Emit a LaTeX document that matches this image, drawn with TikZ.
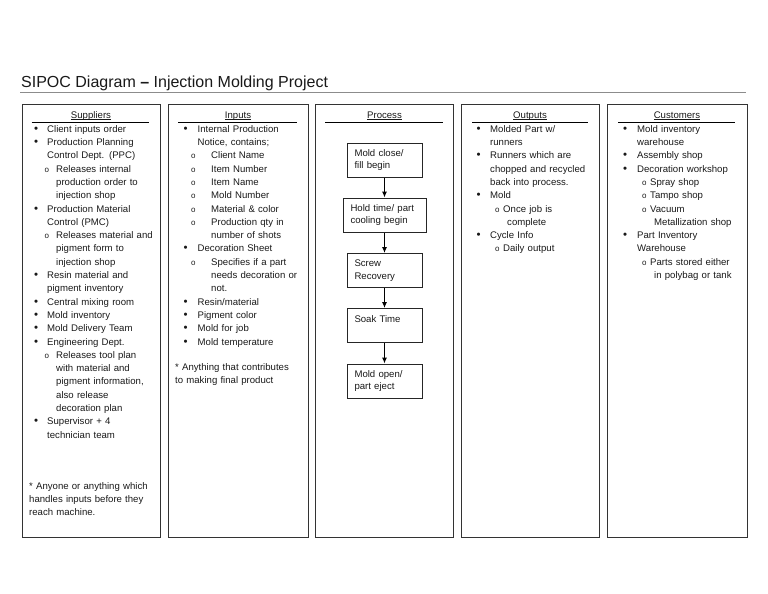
\documentclass[tikz,border=0pt]{standalone}
\usepackage{fontspec}
\setmainfont{Liberation Sans}
\usetikzlibrary{arrows.meta}
\setlength{\parindent}{0pt}

% column line layout: bullet, text, sub bullet, sub text, sub continuation
\newcommand\colset[5]{\def\cbul{#1pt}\def\ctxt{#2pt}\def\csub{#3pt}\def\cstx{#4pt}\def\cscn{#5pt}}
\newcommand\subo{{\fontsize{8}{8}\selectfont o}}
\newcommand\bigbul{{\fontsize{11.5}{11.5}\selectfont\textbullet}}
\newcommand\bitem[1]{\hspace*{\cbul}\makebox[\dimexpr\ctxt-\cbul\relax][l]{\bigbul}#1\strut}
\newcommand\bcont[1]{\hspace*{\ctxt}#1\strut}
\newcommand\sitem[1]{\hspace*{\csub}\makebox[\dimexpr\cstx-\csub\relax][l]{\subo}#1\strut}
\newcommand\scont[1]{\hspace*{\cscn}#1\strut}
\newcommand\hdline[1]{\setbox0\hbox{#1}\rlap{\rule[-1.3pt]{\wd0}{0.5pt}}\box0}

\begin{document}
\begin{tikzpicture}[x=1pt, y=-1pt, >={Latex[length=6pt,width=5pt]},
  colbox/.style={draw=black!80, line width=1pt, minimum height=433pt, inner sep=0pt},
  coltext/.style={anchor=north west, inner sep=0pt, text width=138pt, align=left,
    text=black!90, font=\fontsize{9.6}{13.3}\selectfont},
  head/.style={anchor=base, inner sep=0pt, text=black!90, font=\fontsize{9.6}{13.3}\selectfont},
  procbox/.style={draw=black!85, line width=1pt, minimum height=34pt, text width=60pt,
    inner xsep=7.5pt, align=left, text=black!90, font=\fontsize{9.6}{12.5}\selectfont}]
  \useasboundingbox (0,0) rectangle (768,594);

  \node[anchor=base west, inner sep=0pt, text=black!90, font=\fontsize{16}{19}\selectfont] (title) at (21,87)
    {SIPOC Diagram {\bfseries --} Injection Molding Project};
  \draw[black!45, line width=0.8pt] (20,92.5) -- (746,92.5);

  \node[colbox, minimum width=138pt] (sup) at (91,320.5) {};
  \node[colbox, minimum width=140pt] (inp) at (238,320.5) {};
  \node[colbox, minimum width=138pt] (proc) at (384.5,320.5) {};
  \node[colbox, minimum width=138pt] (outp) at (530,320.5) {};
  \node[colbox, minimum width=140pt] (cust) at (677,320.5) {};

  \node[head] (suphd) at (91,118.5) {\hdline{Suppliers}};
  \draw[line width=0.8pt] (31.5,122) -- (148.5,122);
  \node[head] (inphd) at (238,118.5) {\hdline{Inputs}};
  \draw[line width=0.8pt] (178,122) -- (297,122);
  \node[head] (prochd) at (384.5,118.5) {\hdline{Process}};
  \draw[line width=0.8pt] (325,122) -- (443,122);
  \node[head] (outphd) at (530,118.5) {\hdline{Outputs}};
  \draw[line width=0.8pt] (472,122) -- (588,122);
  \node[head] (custhd) at (677,118.5) {\hdline{Customers}};
  \draw[line width=0.8pt] (618,122) -- (735,122);

  % suppliers
  \colset{12}{25}{22.5}{34}{34}
  \node[coltext] (suptxt) at (22,122.7) {%
    \bitem{Client inputs order}\\
    \bitem{Production Planning}\\
    \bcont{Control Dept. (PPC)}\\
    \sitem{Releases internal}\\
    \scont{production order to}\\
    \scont{injection shop}\\
    \bitem{Production Material}\\
    \bcont{Control (PMC)}\\
    \sitem{Releases material and}\\
    \scont{pigment form to}\\
    \scont{injection shop}\\
    \bitem{Resin material and}\\
    \bcont{pigment inventory}\\
    \bitem{Central mixing room}\\
    \bitem{Mold inventory}\\
    \bitem{Mold Delivery Team}\\
    \bitem{Engineering Dept.}\\
    \sitem{Releases tool plan}\\
    \scont{with material and}\\
    \scont{pigment information,}\\
    \scont{also release}\\
    \scont{decoration plan}\\
    \bitem{Supervisor + 4}\\
    \bcont{technician team}};
  \node[coltext] (supnote) at (29,479.7)
    {\strut* Anyone or anything which\\handles inputs before they\\reach machine.};

  % inputs
  \colset{15.5}{29.5}{23}{43}{43}
  \node[coltext] (inptxt) at (168,122.7) {%
    \bitem{Internal Production}\\
    \bcont{Notice, contains;}\\
    \sitem{Client Name}\\
    \sitem{Item Number}\\
    \sitem{Item Name}\\
    \sitem{Mold Number}\\
    \sitem{Material \& color}\\
    \sitem{Production qty in}\\
    \scont{number of shots}\\
    \bitem{Decoration Sheet}\\
    \sitem{Specifies if a part}\\
    \scont{needs decoration or}\\
    \scont{not.}\\
    \bitem{Resin/material}\\
    \bitem{Pigment color}\\
    \bitem{Mold for job}\\
    \bitem{Mold temperature}};
  \node[coltext] (inpnote) at (175,360.7)
    {\strut* Anything that contributes\\to making final product};

  % process
  \node[procbox] (p1) at (384.5,160) {Mold close/\\fill begin};
  \node[procbox, text width=68pt] (p2) at (384.5,215) {Hold time/ part\\cooling begin};
  \node[procbox] (p3) at (384.5,270.5) {Screw\\Recovery};
  \node[procbox] (p4) at (384.5,325.5) {Soak Time\\~};
  \node[procbox] (p5) at (384.5,381) {Mold open/\\part eject};
  \draw[->, line width=1pt] (p1) -- (p2);
  \draw[->, line width=1pt] (p2) -- (p3);
  \draw[->, line width=1pt] (p3) -- (p4);
  \draw[->, line width=1pt] (p4) -- (p5);

  % outputs
  \colset{15.5}{29}{34}{42}{46}
  \node[coltext] (outptxt) at (461,122.7) {%
    \bitem{Molded Part w/}\\
    \bcont{runners}\\
    \bitem{Runners which are}\\
    \bcont{chopped and recycled}\\
    \bcont{back into process.}\\
    \bitem{Mold}\\
    \sitem{Once job is}\\
    \scont{complete}\\
    \bitem{Cycle Info}\\
    \sitem{Daily output}};

  % customers
  \colset{16}{30}{35}{43}{47}
  \node[coltext] (custtxt) at (607,122.7) {%
    \bitem{Mold inventory}\\
    \bcont{warehouse}\\
    \bitem{Assembly shop}\\
    \bitem{Decoration workshop}\\
    \sitem{Spray shop}\\
    \sitem{Tampo shop}\\
    \sitem{Vacuum}\\
    \scont{Metallization shop}\\
    \bitem{Part Inventory}\\
    \bcont{Warehouse}\\
    \sitem{Parts stored either}\\
    \scont{in polybag or tank}};
\end{tikzpicture}
\end{document}
